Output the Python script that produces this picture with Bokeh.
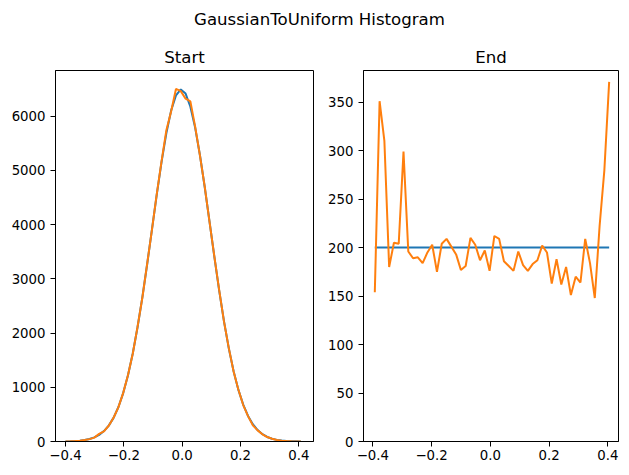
from bokeh.plotting import figure
from bokeh.models import Div, FixedTicker, Range1d
from bokeh.layouts import column, row
from bokeh.embed import file_html
from bokeh.resources import INLINE

# ---------------- data ----------------
x_start = [-0.4000, -0.3835, -0.3671, -0.3506, -0.3341, -0.3177, -0.3012, -0.2847, -0.2682, -0.2518,
           -0.2353, -0.2188, -0.2024, -0.1859, -0.1694, -0.1530, -0.1365, -0.1200, -0.1035, -0.0871,
           -0.0706, -0.0541, -0.0377, -0.0212, -0.0047, 0.0118, 0.0282, 0.0447, 0.0612, 0.0776,
           0.0941, 0.1106, 0.1270, 0.1435, 0.1600, 0.1764, 0.1929, 0.2094, 0.2259, 0.2423,
           0.2588, 0.2753, 0.2917, 0.3082, 0.3247, 0.3411, 0.3576, 0.3741, 0.3906, 0.4070]
start_blue = [2, 5, 9, 15, 27, 46, 76, 122, 192, 293,
              436, 632, 888, 1216, 1623, 2107, 2658, 3268, 3911, 4550,
              5156, 5687, 6104, 6380, 6490, 6415, 6172, 5783, 5273, 4683,
              4044, 3399, 2780, 2216, 1717, 1294, 951, 679, 472, 319,
              210, 135, 84, 51, 30, 17, 10, 5, 3, 1]
start_orange = [1, 3, 7, 15, 28, 44, 72, 140, 188, 290,
                438, 628, 892, 1222, 1618, 2112, 2650, 3275, 3905, 4560,
                5170, 5740, 6090, 6500, 6460, 6320, 6270, 5800, 5265, 4690,
                4040, 3405, 2790, 2210, 1722, 1290, 955, 672, 468, 300,
                205, 132, 82, 50, 28, 16, 9, 5, 2, 1]

x_end = [-0.3932, -0.3769, -0.3606, -0.3444, -0.3281, -0.3118, -0.2955, -0.2792, -0.2630, -0.2467,
         -0.2304, -0.2141, -0.1978, -0.1816, -0.1653, -0.1490, -0.1327, -0.1164, -0.1002, -0.0839,
         -0.0676, -0.0513, -0.0350, -0.0188, -0.0025, 0.0138, 0.0301, 0.0464, 0.0627, 0.0789,
         0.0952, 0.1115, 0.1278, 0.1441, 0.1603, 0.1766, 0.1929, 0.2092, 0.2255, 0.2417,
         0.2580, 0.2743, 0.2906, 0.3069, 0.3231, 0.3394, 0.3557, 0.3720, 0.3883, 0.4046]
end_blue = [200] * 50
end_orange = [154, 351, 310, 180, 205, 204, 299, 196, 189, 190,
              184, 195, 203, 175, 204, 209, 201, 193, 177, 181,
              210, 203, 187, 197, 176, 212, 209, 186, 181, 176,
              196, 182, 176, 183, 187, 202, 195, 163, 188, 162,
              180, 151, 170, 164, 209, 184, 148, 222, 280, 371]

x_ticks = [-0.4, -0.2, 0.0, 0.2, 0.4]
x_tick_labels = ["\u22120.4", "\u22120.2", "0.0", "0.2", "0.4"]
start_y_ticks = [0, 1000, 2000, 3000, 4000, 5000, 6000]
end_y_ticks = [0, 50, 100, 150, 200, 250, 300, 350]

suptitle = "GaussianToUniform Histogram"
titles = ["Start", "End"]

BLUE = "#1f77b4"
ORANGE = "#ff7f0e"
FONT = "DejaVu Sans"


def style(p, yticks):
    p.title.align = "center"
    p.title.text_font = FONT
    p.title.text_font_size = "16.6px"
    p.title.text_font_style = "normal"
    p.title.text_color = "black"
    p.title.standoff = 8
    p.xgrid.visible = False
    p.ygrid.visible = False
    p.outline_line_color = "black"
    p.outline_line_width = 1
    p.outline_line_alpha = 1
    p.background_fill_color = "white"
    p.border_fill_color = "white"
    p.xaxis.ticker = FixedTicker(ticks=x_ticks)
    p.xaxis.major_label_overrides = {t: l for t, l in zip(x_ticks, x_tick_labels)}
    p.yaxis.ticker = FixedTicker(ticks=yticks)
    for ax in (p.xaxis[0], p.yaxis[0]):
        ax.axis_line_color = "black"
        ax.major_tick_line_color = "black"
        ax.major_tick_out = 5
        ax.major_tick_in = 0
        ax.minor_tick_line_color = None
        ax.major_label_text_font = FONT
        ax.major_label_text_font_size = "13.3px"
        ax.major_label_text_color = "black"
    p.xaxis.major_label_standoff = 3
    p.yaxis.major_label_standoff = 5


p1 = figure(width=325, height=429, output_backend="svg", toolbar_location=None,
            title=titles[0],
            x_range=Range1d(-0.4343, 0.4504), y_range=Range1d(0, 6840),
            min_border_left=55, min_border_right=12, min_border_top=32, min_border_bottom=26)
p1.line(x_start, start_blue, line_color=BLUE, line_width=2)
p1.line(x_start, start_orange, line_color=ORANGE, line_width=2)
style(p1, start_y_ticks)

p2 = figure(width=296, height=429, output_backend="svg", toolbar_location=None,
            title=titles[1],
            x_range=Range1d(-0.4317, 0.4364), y_range=Range1d(0, 382.7),
            min_border_left=38, min_border_right=3, min_border_top=32, min_border_bottom=26)
p2.line(x_end, end_blue, line_color=BLUE, line_width=2)
p2.line(x_end, end_orange, line_color=ORANGE, line_width=2)
style(p2, end_y_ticks)

head = Div(text=suptitle, width=621, height=28,
           styles={"text-align": "center", "font-size": "16.6px", "font-family": FONT,
                   "color": "black", "padding-top": "3px", "width": "629px"})

layout = column(head, row(p1, p2))
open("out.html", "w").write(file_html(layout, INLINE))
